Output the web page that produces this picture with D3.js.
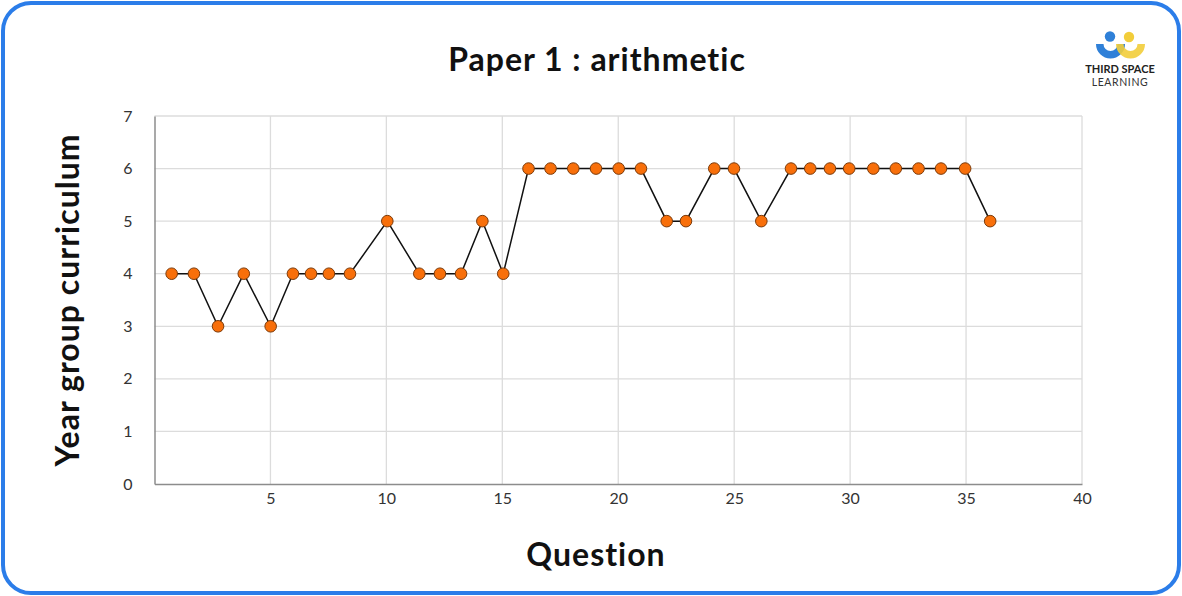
<!DOCTYPE html>
<html><head><meta charset="utf-8">
<script src="https://cdn.jsdelivr.net/npm/d3@7"></script>
<style>body{margin:0;background:#fff;}svg{display:block;}</style>
</head><body>
<svg id="c" width="1182" height="596"></svg>
<script>
const questionX = [0.74,1.70,2.74,3.85,5.01,5.97,6.75,7.52,8.43,10.04,11.42,12.31,13.22,14.14,15.04,16.13,17.08,18.06,19.04,20.02,20.98,22.09,22.92,24.14,24.99,26.17,27.45,28.28,29.13,29.96,31.0,31.97,32.95,33.92,34.96,36.04];
const yearGroup = [4,4,3,4,3,4,4,4,4,5,4,4,4,5,4,6,6,6,6,6,6,5,5,6,6,5,6,6,6,6,6,6,6,6,6,5];
const xTicks = [5,10,15,20,25,30,35,40];
const yTicks = [0,1,2,3,4,5,6,7];
const title = "Paper 1 : arithmetic";
const xTitle = "Question";
const yTitle = "Year group curriculum";

const svg = d3.select("#c");
const font = "Lato, 'Open Sans', sans-serif";

svg.append("rect").attr("x",3).attr("y",3).attr("width",1176).attr("height",590)
  .attr("rx",28).attr("fill","#fff").attr("stroke","#2b7de9").attr("stroke-width",4);

const L=154.5, R=1082, T=116, B=484;
const x = d3.scaleLinear().domain([0,40]).range([L,R]);
const y = d3.scaleLinear().domain([0,7]).range([B,T]);

// grid
svg.append("g").selectAll("line").data(yTicks.filter(d=>d>0)).join("line")
  .attr("x1",L).attr("x2",R).attr("y1",d=>y(d)).attr("y2",d=>y(d))
  .attr("stroke","#dcdcdc").attr("stroke-width",1.3);
svg.append("g").selectAll("line").data(xTicks).join("line")
  .attr("x1",d=>x(d)).attr("x2",d=>x(d)).attr("y1",T).attr("y2",B)
  .attr("stroke","#dcdcdc").attr("stroke-width",1.3);

// axes
const ya = svg.append("g").attr("transform",`translate(${L},0)`)
  .call(d3.axisLeft(y).tickValues(yTicks).tickSize(0).tickPadding(22).tickFormat(d3.format("d")));
ya.select(".domain").attr("stroke","#8c8c8c").attr("stroke-width",1.5);
const xa = svg.append("g").attr("transform",`translate(0,${B})`)
  .call(d3.axisBottom(x).tickValues(xTicks).tickSize(0).tickPadding(9).tickFormat(d3.format("d")));
xa.select(".domain").attr("stroke","#8c8c8c").attr("stroke-width",1.5);
svg.selectAll(".tick text").attr("font-family",font).attr("font-size",16).attr("fill","#333");

// line
const pts = questionX.map((q,i)=>({q, v: yearGroup[i]}));
svg.append("path").datum(pts)
  .attr("d", d3.line().x(d=>x(d.q)).y(d=>y(d.v)))
  .attr("fill","none").attr("stroke","#111").attr("stroke-width",1.5);
svg.append("g").selectAll("circle").data(pts).join("circle")
  .attr("cx",d=>x(d.q)).attr("cy",d=>y(d.v)).attr("r",5.8)
  .attr("fill","#f86f0a").attr("stroke","#7a3a0a").attr("stroke-width",1);

// titles
svg.append("text").attr("x",597).attr("y",71).attr("text-anchor","middle").attr("letter-spacing",1)
  .attr("font-family",font).attr("font-weight","bold").attr("font-size",32).attr("fill","#111").text(title);
svg.append("text").attr("x",596).attr("y",566).attr("text-anchor","middle").attr("letter-spacing",1)
  .attr("font-family",font).attr("font-weight","bold").attr("font-size",32).attr("fill","#111").text(xTitle);
svg.append("text").attr("transform","translate(79,300) rotate(-90)").attr("text-anchor","middle").attr("letter-spacing",1)
  .attr("font-family",font).attr("font-weight","bold").attr("font-size",32).attr("fill","#111").text(yTitle);

// logo
const lg = svg.append("g");
const arc = d3.arc().innerRadius(7).outerRadius(14.5).startAngle(Math.PI/2).endAngle(Math.PI*1.5);
lg.append("path").attr("d",arc()).attr("transform","translate(1110.5,44)").attr("fill","#2f80d8");
lg.append("path").attr("d",arc()).attr("transform","translate(1130.5,44)").attr("fill","#f2cd3a").attr("opacity",0.9);
lg.append("circle").attr("cx",1110).attr("cy",36.5).attr("r",5.2).attr("fill","#2f80d8");
lg.append("circle").attr("cx",1129).attr("cy",37).attr("r",5.2).attr("fill","#f2cd3a");
lg.append("text").attr("x",1120).attr("y",72.5).attr("text-anchor","middle").attr("font-family",font)
  .attr("font-weight","bold").attr("font-size",11).attr("fill","#222").text("THIRD SPACE");
lg.append("text").attr("x",1120).attr("y",86).attr("text-anchor","middle").attr("font-family",font)
  .attr("font-size",10.5).attr("fill","#333").attr("letter-spacing",0.6).text("LEARNING");
</script>
</body></html>
